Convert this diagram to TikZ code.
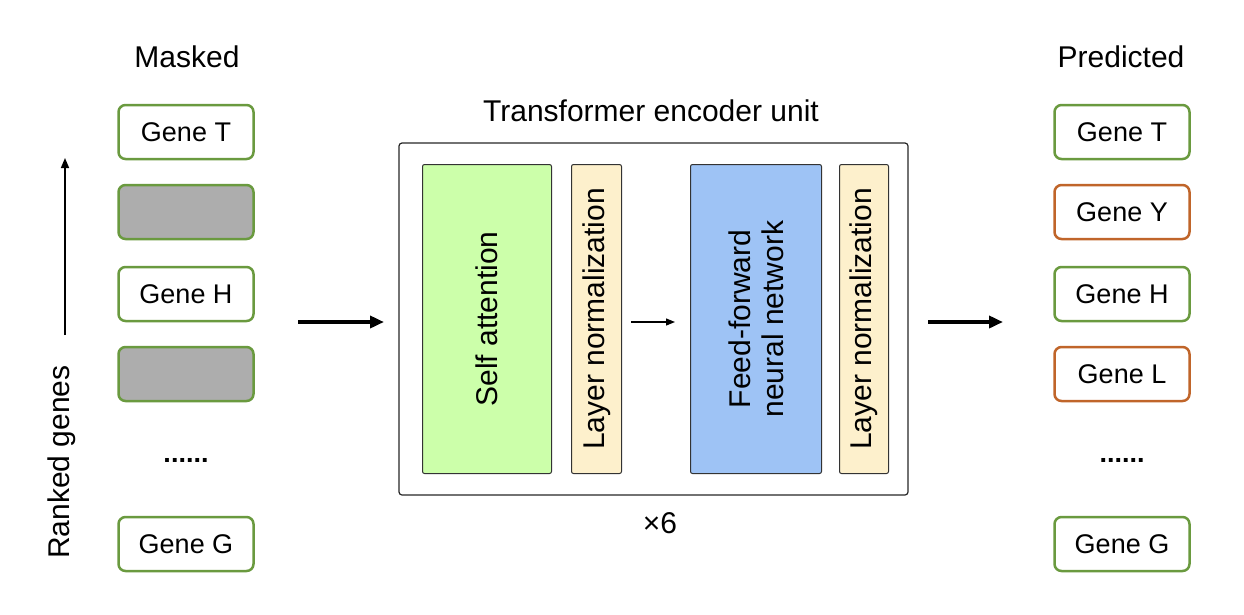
\documentclass[tikz,border=0pt]{standalone}
\usepackage{fontspec}
\setmainfont{Liberation Sans}
\usetikzlibrary{arrows.meta}
\begin{document}
\begin{tikzpicture}[x=1pt,y=-1pt,
 gene/.style={draw=#1,line width=2.5pt,rounded corners=7pt,minimum width=135pt,minimum height=54pt,font=\fontsize{27}{29}\selectfont,fill=white},
 blk/.style={draw=black!80,line width=1pt,rounded corners=2pt,anchor=north west},
 lbl/.style={font=\fontsize{30}{33}\selectfont},
 arr/.style={-{Triangle[length=14pt,width=12pt]},line width=3.5pt}]
\useasboundingbox (0,0) rectangle (1244,614);
\definecolor{gg}{HTML}{6A9A3F}\definecolor{oo}{HTML}{C0652A}
\node[lbl] (m) at (187,57) {Masked};
\node[lbl] (p) at (1121,57) {Predicted};
\node[gene=gg] (l1) at (186,132) {Gene T};
\node[gene=gg,fill=black!32] (l2) at (186,212) {};
\node[gene=gg] (l3) at (186,294) {Gene H};
\node[gene=gg,fill=black!32] (l4) at (186,374) {};
\node[font=\fontsize{27}{29}\selectfont\bfseries] (l5) at (186,460) {......};
\node[gene=gg] (l6) at (186,544) {Gene G};
\node[gene=gg] (r1) at (1122,132) {Gene T};
\node[gene=oo] (r2) at (1122,212) {Gene Y};
\node[gene=gg] (r3) at (1122,294) {Gene H};
\node[gene=oo] (r4) at (1122,374) {Gene L};
\node[font=\fontsize{27}{29}\selectfont\bfseries] (r5) at (1122,460) {......};
\node[gene=gg] (r6) at (1122,544) {Gene G};
\node[lbl,rotate=90] (rk) at (62,462) {Ranked genes};
\coordinate (a0) at (65,335); \coordinate (a1) at (65,158);
\draw[-{Triangle[length=10pt,width=8pt]},line width=1.6pt] (a0) -- (a1);
\node[draw=black!85,line width=1.2pt,rounded corners=3pt,minimum width=509pt,minimum height=352pt] (box) at (653.5,319) {};
\node[lbl] (t) at (651,111) {Transformer encoder unit};
\node[lbl] (x6) at (660,523) {×6};
\node[blk,minimum width=129pt,minimum height=309pt,fill={rgb,255:red,204;green,255;blue,170}] (sa) at (422,164) {};
\node[rotate=90,lbl] at (sa.center) {Self attention};
\node[blk,minimum width=50pt,minimum height=309pt,fill={rgb,255:red,253;green,240;blue,204}] (ln1) at (571,164) {};
\node[rotate=90,lbl] at (ln1.center) {Layer normalization};
\node[blk,minimum width=131pt,minimum height=309pt,fill={rgb,255:red,158;green,195;blue,245}] (ff) at (690,164) {};
\node[rotate=90,lbl,align=center] at (ff.center) {Feed-forward\\neural network};
\node[blk,minimum width=49pt,minimum height=309pt,fill={rgb,255:red,253;green,240;blue,204}] (ln2) at (839,164) {};
\node[rotate=90,lbl] at (ln2.center) {Layer normalization};
\coordinate (s0) at (631,322); \coordinate (s1) at (675,322);
\draw[-{Triangle[length=9pt,width=7pt]},line width=1.2pt] (s0) -- (s1);
\coordinate (b0) at (298,322); \coordinate (b1) at (384,322);
\draw[arr] (b0) -- (b1);
\coordinate (c0) at (928,322); \coordinate (c1) at (1003,322);
\draw[arr] (c0) -- (c1);
\end{tikzpicture}
\end{document}
